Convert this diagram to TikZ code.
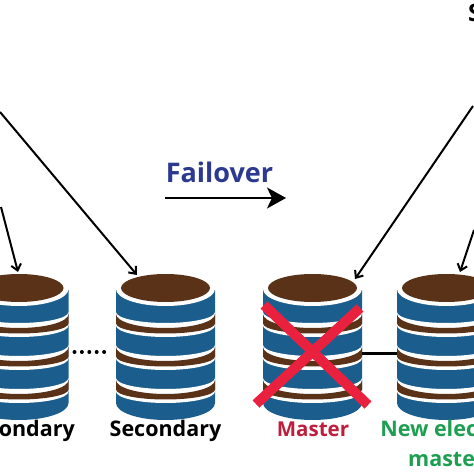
\documentclass[tikz,border=0pt]{standalone}
\usepackage{fontspec}
\setmainfont{Open Sans}
\usetikzlibrary{arrows.meta}
\definecolor{dbblue}{HTML}{1B5E8E}
\definecolor{dbbrown}{HTML}{593218}
\definecolor{failblue}{HTML}{2B3990}
\definecolor{xred}{HTML}{E9213F}
\definecolor{mred}{HTML}{BE1E3C}
\definecolor{egreen}{HTML}{1E9E50}
\tikzset{
  dbstripe/.pic={
    \fill[white] (-49.5,-24) arc[start angle=180,end angle=360,x radius=49.5,y radius=11] -- (49.5,-37.5)
      arc[start angle=0,end angle=-180,x radius=49.5,y radius=11.5] -- cycle;
    \fill[dbbrown] (-49.5,-26) arc[start angle=180,end angle=360,x radius=49.5,y radius=14] -- (49.5,-35.5)
      arc[start angle=0,end angle=-180,x radius=49.5,y radius=10] -- cycle;
  },
  dbcyl/.pic={
    \fill[dbblue] (-49.5,-2) -- (-49.5,-115) arc[start angle=180,end angle=360,x radius=49.5,y radius=17] -- (49.5,-2) -- cycle;
    \fill[white] (0,-1) ellipse[x radius=49.5,y radius=17];
    \fill[dbbrown] (0,0) ellipse[x radius=44.5,y radius=14];
    \pic at (0,0) {dbstripe};
    \pic at (0,-33) {dbstripe};
    \pic at (0,-66) {dbstripe};
    \coordinate (-left) at (-49.5,-66);
    \coordinate (-right) at (49.5,-66);
  },
  conn/.style={draw=black,line width=2pt,-{Straight Barb[length=6pt,width=10pt,line width=2pt]}},
  lbl/.style={font=\bfseries\fontsize{21.5}{24}\selectfont,inner sep=0pt,anchor=base},
  redbar/.style={draw=xred,line width=10pt},
}
\begin{document}
\begin{tikzpicture}[x=1pt,y=1pt]
\useasboundingbox (0,0) rectangle (474,474);
\clip (0,0) rectangle (474,474);
\pic (c1) at (19,186) {dbcyl};
\pic (c2) at (165.5,186) {dbcyl};
\pic (c3) at (312.5,186) {dbcyl};
\pic (c4) at (446.5,186) {dbcyl};
% free ends and arrow targets
\coordinate (a1s) at (0,362);
\coordinate (a1e) at (137,199);
\coordinate (a2s) at (1,267);
\coordinate (a2e) at (18,202);
\coordinate (r1s) at (473,368);
\coordinate (r1e) at (355,195);
\coordinate (r2s) at (474,244);
\coordinate (r2e) at (460,202);
\draw[conn] (a1s) -- (a1e);
\draw[conn] (a2s) -- (a2e);
\draw[conn] (r1s) -- (r1e);
\draw[conn] (r2s) -- (r2e);
% failover
\coordinate (fs) at (165,276);
\coordinate (fe) at (286,276);
\draw[line width=2pt,-{Stealth[length=19pt,width=21pt,inset=5pt]}] (fs) -- (fe);
\node[font=\bfseries\fontsize{27}{30}\selectfont,text=failblue,inner sep=0pt,anchor=base] (failover) at (219.5,291) {Failover};
% links between cylinders
\draw[line width=3pt] (c3-right) -- (c4-left);
\coordinate (d1) at (74.5,122);
\coordinate (d2) at (105,122);
\draw[line width=4pt,dash pattern=on 0pt off 7.4pt,line cap=round] (d1) -- (d2);
% red cross
\draw[redbar] (264,169) -- (368,69);
\draw[redbar] (360,166) -- (256,70);
% labels
\node[lbl] (l1) at (19,37) {Secondary};
\node[lbl] (l2) at (165.5,37) {Secondary};
\node[lbl,text=mred,font=\bfseries\fontsize{20.5}{24}\selectfont] (l3) at (313,37) {Master};
\node[lbl,text=egreen] (l4) at (446.5,37) {New elected};
\node[lbl,text=egreen] (l5) at (446.5,7) {master};
\node[font=\bfseries\fontsize{24}{28}\selectfont,inner sep=0pt,anchor=base west] (s) at (468,452) {S};
\end{tikzpicture}
\end{document}
